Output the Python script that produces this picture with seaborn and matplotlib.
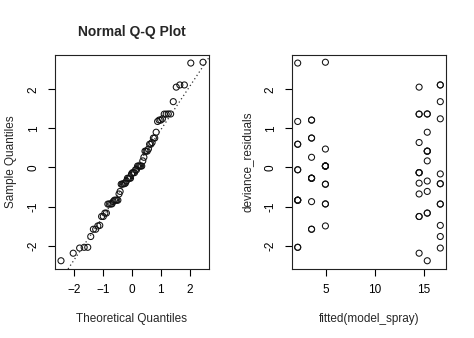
import numpy as np
import pandas as pd
import matplotlib
matplotlib.use("Agg")
import matplotlib.pyplot as plt
import seaborn as sns
from statistics import NormalDist

# ---- data (Poisson GLM deviance residuals by spray) ----
sprays = ["A", "B", "C", "D", "E", "F"]
fitted_means = [14.5, 15.333, 2.083, 4.917, 3.5, 16.667]
resid_A = [-1.253, -2.192, 1.365, -0.132, -0.132, -0.677, -1.253, 2.055, 0.639, 1.365, -0.132, -0.401]
resid_B = [-1.166, 0.418, 1.369, -1.166, 0.169, -0.346, 0.418, 0.418, 0.902, 1.369, -2.385, -0.612]
resid_C = [-2.041, -0.836, 2.671, -0.058, 0.595, -0.836, -0.058, -0.836, 0.595, -2.041, -0.836, 1.177]
resid_D = [-0.932, 0.037, 2.692, 0.472, -0.427, -0.932, 0.037, 0.037, 0.037, 0.037, -1.495, -0.427]
resid_E = [-0.274, 0.753, -0.274, 0.753, -0.274, 1.212, -1.579, -1.579, -0.274, -0.873, 1.212, 0.261]
resid_F = [-1.481, -2.060, -0.415, 1.245, -0.415, -0.164, -0.935, -1.765, 2.111, 2.111, 1.684, -0.935]

# theoretical normal quantiles (negative half; positive half mirrors it)
theo_neg = [-2.461, -2.038, -1.815, -1.658, -1.534, -1.430, -1.339, -1.258, -1.185,
            -1.117, -1.054, -0.996, -0.940, -0.887, -0.837, -0.788, -0.741, -0.696,
            -0.653, -0.610, -0.569, -0.528, -0.489, -0.450, -0.412, -0.374, -0.337,
            -0.300, -0.264, -0.228, -0.193, -0.157, -0.122, -0.087, -0.052, -0.017]

title = "Normal Q-Q Plot"
xlab_left = "Theoretical Quantiles"
ylab_left = "Sample Quantiles"
xlab_right = "fitted(model_spray)"
ylab_right = "deviance_residuals"

# ---- build tables ----
resid_lists = [resid_A, resid_B, resid_C, resid_D, resid_E, resid_F]
rows = []
for s, m, r in zip(sprays, fitted_means, resid_lists):
    for v in r:
        rows.append({"spray": s, "fitted": m, "resid": v})
df = pd.DataFrame(rows)

theo = list(theo_neg) + [-v for v in reversed(theo_neg)]
qq = pd.DataFrame({"theo": theo, "sample": np.sort(df["resid"].values)})

# ---- style ----
sns.set_theme(style="ticks")
plt.rcParams["font.family"] = ["Liberation Sans", "DejaVu Sans"]
plt.rcParams["axes.linewidth"] = 0.8
plt.rcParams["xtick.major.width"] = 0.8
plt.rcParams["ytick.major.width"] = 0.8
plt.rcParams["xtick.major.size"] = 5
plt.rcParams["ytick.major.size"] = 5
plt.rcParams["xtick.color"] = "black"
plt.rcParams["ytick.color"] = "black"

fig = plt.figure(figsize=(4.74, 3.38), dpi=100)
fig.patch.set_facecolor("white")
axL = fig.add_axes([55 / 474, 1 - 269 / 338, 154 / 474, 214 / 338])
axR = fig.add_axes([292 / 474, 1 - 269 / 338, 154 / 474, 214 / 338])

ylim = (-2.596, 2.877)
mk = dict(marker="o", s=19, facecolor="none", edgecolor="#111111", linewidth=0.75, legend=False)

# left: Q-Q plot
sns.scatterplot(data=qq, x="theo", y="sample", ax=axL, **mk)
nd = NormalDist()
x1, x2 = nd.inv_cdf(0.25), nd.inv_cdf(0.75)
y1, y2 = np.quantile(qq["sample"], [0.25, 0.75])
axL.axline((x1, y1), (x2, y2), color="#333333", linewidth=0.9, linestyle=(0, (1, 2.2)))
axL.set_xlim(-2.669, 2.669)
axL.set_ylim(*ylim)
axL.set_xticks([-2, -1, 0, 1, 2])
axL.set_yticks([-2, -1, 0, 1, 2])
axL.set_title(title, fontsize=10, fontweight="bold", pad=14)
axL.set_xlabel(xlab_left, fontsize=8.5, labelpad=12)
axL.set_ylabel(ylab_left, fontsize=8.5, labelpad=8)

# right: residuals vs fitted
sns.scatterplot(data=df, x="fitted", y="resid", ax=axR, **mk)
axR.set_xlim(1.5, 17.25)
axR.set_ylim(*ylim)
axR.set_xticks([5, 10, 15])
axR.set_yticks([-2, -1, 0, 1, 2])
axR.set_xlabel(xlab_right, fontsize=8.5, labelpad=12)
axR.set_ylabel(ylab_right, fontsize=8.5, labelpad=8)

for ax in (axL, axR):
    ax.set_facecolor("white")
    for sp in ax.spines.values():
        sp.set_visible(True)
        sp.set_color("#222222")
    ax.tick_params(axis="both", labelsize=8.5, pad=6, direction="out")
    ax.set_yticklabels([str(v) for v in [-2, -1, 0, 1, 2]], rotation=90, va="center")

fig.savefig("out.png", dpi=100, facecolor="white")
